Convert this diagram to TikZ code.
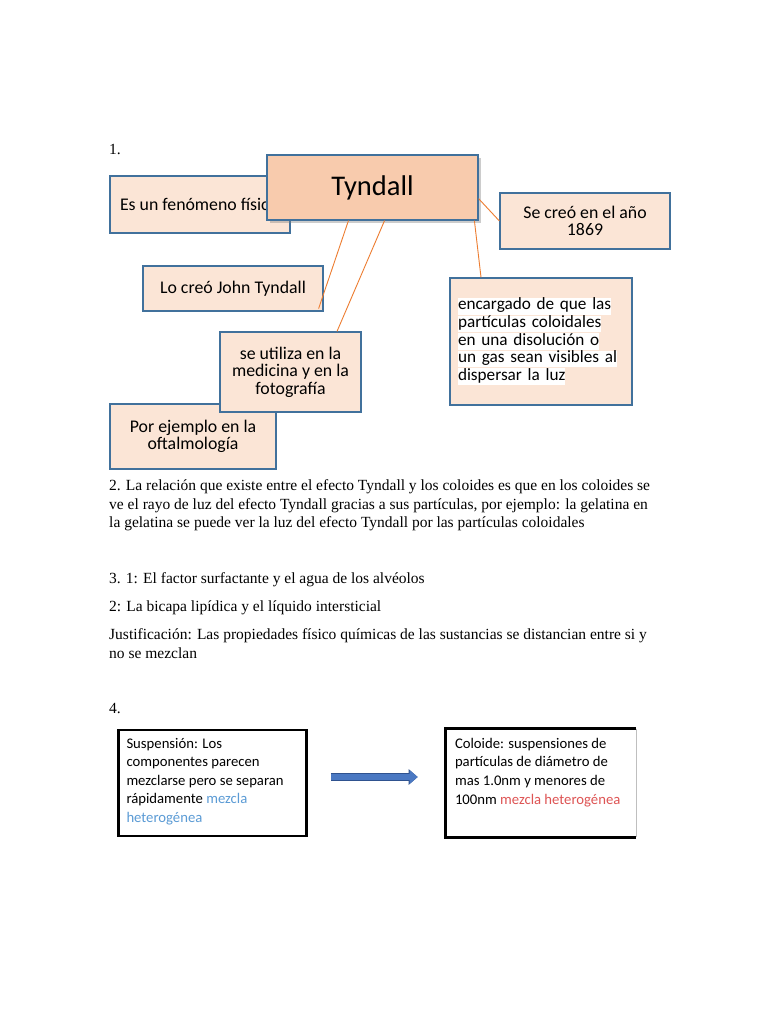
\documentclass[tikz,border=0pt]{standalone}
\usepackage{fontspec}
\setmainfont{Liberation Serif}
\newfontfamily\calibri{Carlito}
\usetikzlibrary{shadows,arrows.meta}
\definecolor{peach}{RGB}{251,229,214}
\definecolor{tynfill}{RGB}{248,203,173}
\definecolor{boxline}{RGB}{65,113,156}
\definecolor{linkorange}{RGB}{237,125,49}
\definecolor{arrowblue}{RGB}{74,120,194}
\definecolor{arrowdark}{RGB}{47,82,143}
\definecolor{mixblue}{RGB}{91,155,213}
\definecolor{mixred}{RGB}{222,84,84}
\setlength{\fboxsep}{0pt}
\newcommand{\hl}[1]{\colorbox{white}{\strut #1}}
\newcommand{\mixtext}[1]{\parbox[c][90pt][t]{172pt}{\calibri\fontsize{14.7}{18.6}\selectfont #1}}
\begin{document}
\begin{tikzpicture}[x=1pt, y=-1pt,
    box/.style={draw=boxline, line width=1.2pt, fill=peach, inner sep=0pt,
      font=\calibri\fontsize{17.8}{17.6}\selectfont, align=center},
    link/.style={draw=linkorange, line width=0.9pt},
    body/.style={font=\fontsize{15.5}{18}\selectfont, inner sep=0pt, anchor=base west},
    mixbox/.style={draw=black, line width=2.6pt, fill=white, inner sep=8pt},
    flow/.style={draw=arrowblue, line width=6pt, -{Triangle[length=8pt, width=13pt]}}]
  \useasboundingbox[fill=white] (0,0) rectangle (768,1024);

  % part 1: concept map
  \node[body] (n1) at (109,155) {1.};
  \node[box, minimum width=180pt, minimum height=57pt] (fen) at (200,204.5) {\makebox[160pt][l]{Es un fen\'omeno f\'isico}};
  \node[box, fill=tynfill, minimum width=211pt, minimum height=65pt, font=\calibri\fontsize{28.5}{30}\selectfont,
    drop shadow={opacity=0.4, shadow xshift=3pt, shadow yshift=-3pt}] (tyndall) at (372.5,187.5) {Tyndall};
  \node[box, minimum width=170pt, minimum height=56pt] (anio) at (585,221) {Se cre\'o en el a\~no\\1869};
  \node[box, minimum width=180pt, minimum height=45pt] (john) at (233,288.5) {Lo cre\'o John Tyndall};
  \node[box, minimum width=166pt, minimum height=65pt] (oftal) at (193,436.5) {Por ejemplo en la\\oftalmolog\'ia};
  \node[box, minimum width=141pt, minimum height=80pt] (uso) at (290.5,372) {se utiliza en la\\medicina y en la\\fotograf\'ia};
  \node[box, line width=1.4pt, text width=166pt, inner xsep=8pt, inner ysep=10pt, minimum height=127pt, align=left,
    font=\calibri\fontsize{17.2}{15.7}\selectfont] (enc) at (541,341.5)
    {\hl{encargado de que las}\\\hl{part\'iculas coloidales}\\\hl{en una disoluci\'on o}\\\hl{un gas sean visibles al}\\\hl{dispersar la luz}};
  \draw[link] (tyndall.-126) -- ([shift={(-5,-3)}]john.south east);
  \draw[link] (tyndall.-70) -- ([xshift=46.5pt]uso.north);
  \draw[link] (tyndall.-18) -- ([xshift=-60pt]enc.north);
  \draw[link] (tyndall.-6) -- (anio.west);

  % parts 2 and 3: plain text
  \foreach \txt [count=\k] in {
      {2. La relaci\'on que existe entre el efecto Tyndall y los coloides es que en los coloides se},
      {ve el rayo de luz del efecto Tyndall gracias a sus part\'iculas, por ejemplo: la gelatina en},
      {la gelatina se puede ver la luz del efecto Tyndall por las part\'iculas coloidales}}
    \node[body] (q2-\k) at (109,{472+18.5*\k}) {\txt};
  \node[body] (q3-1) at (109,583) {3. 1: El factor surfactante y el agua de los alv\'eolos};
  \node[body] (q3-2) at (109,611) {2: La bicapa lip\'idica y el l\'iquido intersticial};
  \node[body] (q3-3) at (109,639) {Justificaci\'on: Las propiedades f\'isico qu\'imicas de las sustancias se distancian entre si y};
  \node[body] (q3-4) at (109,658) {no se mezclan};

  % part 4: suspension vs colloid
  \node[body] (n4) at (109,713) {4.};
  \node[mixbox] (susp) at (212.5,783) {\mixtext{Suspensi\'on: Los\\componentes parecen\\mezclarse pero se separan\\r\'apidamente \textcolor{mixblue}{mezcla}\\\textcolor{mixblue}{heterog\'enea}}};
  \node[mixbox, draw=none] (colo) at (541,783) {\mixtext{Coloide: suspensiones de\\part\'iculas de di\'ametro de\\mas 1.0nm y menores de\\100nm \textcolor{mixred}{mezcla heterog\'enea}}};
  % the right side of this box is only a thin grey edge
  \draw[line width=2.6pt] (colo.north east) -- (colo.north west) -- (colo.south west) -- (colo.south east);
  \draw[gray!50, line width=0.6pt] (colo.north east) -- (colo.south east);
  \draw[flow, preaction={draw=arrowdark, line width=8pt, -{Triangle[length=9pt, width=15pt]}}]
    ([shift={(23pt,6pt)}]susp.east) -- ([shift={(-28pt,6pt)}]colo.west);
\end{tikzpicture}
\end{document}
